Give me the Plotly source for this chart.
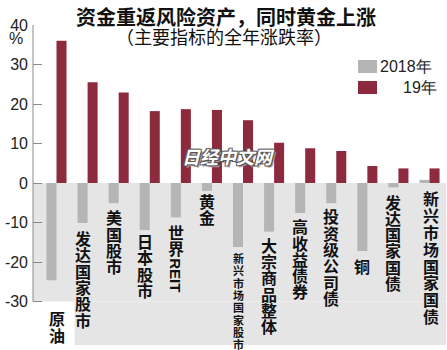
import plotly.graph_objects as go

# ---- data ----
categories = ["原油", "发达国家股市", "美国股市", "日本股市", "世界REIT", "黄金",
              "新兴市场国家股市", "大宗商品整体", "高收益债券", "投资级公司债", "铜",
              "发达国家国债", "新兴市场国家国债"]
values_2018 = [-24.6, -10.1, -5.1, -11.9, -8.7, -2.0, -16.2, -12.3, -7.6, -5.1, -17.2, -1.1, 0.8]
values_2019 = [36.0, 25.5, 22.9, 18.2, 18.7, 18.5, 15.9, 10.2, 8.8, 8.1, 4.3, 3.7, 3.7]
series_names = ["2018年", "19年"]
y_ticks = [-30, -20, -10, 0, 10, 20, 30, 40]

title_text = "资金重返风险资产，同时黄金上涨"
subtitle_text = "（主要指标的全年涨跌率）"
unit_text = "%"
watermark_text = "日经中文网"

# ---- styles / layout tweaks (not data) ----
C_GRAY = "#b5b5b5"
C_RED = "#8d2a3e"
C_BG = "#e5e5e5"
CJK = "Noto Sans CJK SC"
NUM = "Liberation Sans, Arial, sans-serif"

label_gap = [30, 7, 6, 3, 6, 2, 5, 5, 5, 5, 7, 6, 7]     # px below bar end
label_dx = [0, -5, -5, -5, -5, -5, -5, -5, -5, -5, -5, -5, 1]
label_size = [16, 16, 16, 16, 16, 16, 11, 16, 16, 16, 16, 16, 16]
label_step = [16.3, 16.3, 16.3, 16.3, 16.3, 16.3, 12.3, 16.3, 16.3, 16.3, 16.3, 16.3, 16.8]

W, H = 447, 350
ML, MR, MT, MB = 33, 1, 25, 5
PW, PH = W - ML - MR, H - MT - MB
X_RANGE = [-0.756, 12.53]
Y_RANGE = [-41, 40]


def px2paper_x(px):
    return (px - ML) / PW


def px2paper_y(py):
    return 1 - (py - MT) / PH


fig = go.Figure()
fig.add_trace(go.Bar(x=categories, y=values_2018, name=series_names[0],
                     marker=dict(color=C_GRAY, line=dict(width=0))))
fig.add_trace(go.Bar(x=categories, y=values_2019, name=series_names[1],
                     marker=dict(color=C_RED, line=dict(width=0))))

shapes = []
# gray background below zero
shapes.append(dict(type="rect", xref="paper", yref="y", x0=0, x1=1, y0=-30, y1=0,
                   fillcolor=C_BG, line=dict(width=0), layer="below"))
shapes.append(dict(type="rect", xref="x", yref="y", x0=0.58, x1=X_RANGE[1], y0=Y_RANGE[0], y1=-30,
                   fillcolor=C_BG, line=dict(width=0), layer="below"))
# axis line from -30 to 40
shapes.append(dict(type="line", xref="paper", yref="y", x0=0, x1=0, y0=y_ticks[0], y1=y_ticks[-1],
                   line=dict(color="#8a8a8a", width=1)))
# legend swatches
shapes.append(dict(type="rect", xref="paper", yref="paper",
                   x0=px2paper_x(358), x1=px2paper_x(377), y0=px2paper_y(73), y1=px2paper_y(60),
                   fillcolor=C_GRAY, line=dict(width=0)))
shapes.append(dict(type="rect", xref="paper", yref="paper",
                   x0=px2paper_x(358), x1=px2paper_x(377), y0=px2paper_y(94), y1=px2paper_y(81),
                   fillcolor=C_RED, line=dict(width=0)))

ann = []
ann.append(dict(text="<b>" + title_text + "</b>", xref="paper", yref="paper", x=px2paper_x(226),
                y=px2paper_y(16), showarrow=False, font=dict(family=CJK, size=20, color="#111"),
                xanchor="center", yanchor="middle"))
ann.append(dict(text=subtitle_text, xref="paper", yref="paper", x=px2paper_x(224), y=px2paper_y(36),
                showarrow=False, font=dict(family=CJK, size=18, color="#111"), xanchor="center",
                yanchor="middle"))
ann.append(dict(text=unit_text, xref="paper", yref="paper", x=px2paper_x(16), y=px2paper_y(39),
                showarrow=False, font=dict(family=NUM, size=16, color="#222"), xanchor="center",
                yanchor="middle"))
ann.append(dict(text=series_names[0], xref="paper", yref="paper", x=px2paper_x(378), y=px2paper_y(66.5),
                showarrow=False, font=dict(family=NUM, size=16, color="#222"), xanchor="left",
                yanchor="middle"))
ann.append(dict(text=series_names[1], xref="paper", yref="paper", x=px2paper_x(439), y=px2paper_y(87.5),
                showarrow=False, font=dict(family=NUM, size=16, color="#222"), xanchor="right",
                yanchor="middle"))

# watermark: outlined white text (dark copies offset, white on top)
wm_x, wm_y = px2paper_x(228), px2paper_y(156)
for dx, dy, col in [(2, -2, "#b59aa2"), (1, 1, "#555555"), (-1, -1, "#555555"),
                    (1, -1, "#555555"), (-1, 1, "#555555"), (0, 0, "#ffffff")]:
    ann.append(dict(text="<b><i>" + watermark_text + "</i></b>", xref="paper", yref="paper",
                    x=wm_x, y=wm_y, xshift=dx, yshift=dy, showarrow=False,
                    font=dict(family=CJK, size=18, color=col),
                    xanchor="center", yanchor="middle"))

# vertical category labels, one character per annotation
for i, cat in enumerate(categories):
    base = min(values_2018[i], 0)
    step = label_step[i]
    if cat.endswith("REIT"):
        chars = list(cat[:-4])
    else:
        chars = list(cat)
    for j, ch in enumerate(chars):
        ann.append(dict(text="<b>" + ch + "</b>", xref="x", yref="y", x=cat, y=base,
                        xshift=label_dx[i], yshift=-(label_gap[i] + step * (j + 0.5)),
                        showarrow=False, xanchor="center", yanchor="middle",
                        font=dict(family=CJK, size=label_size[i], color="#111")))
    if cat.endswith("REIT"):
        ann.append(dict(text="<b>REIT</b>", xref="x", yref="y", x=cat, y=base, textangle=90,
                        xshift=label_dx[i], yshift=-(label_gap[i] + step * len(chars) + 19),
                        showarrow=False, xanchor="center", yanchor="middle",
                        font=dict(family=NUM, size=15, color="#111")))

fig.update_layout(
    width=W, height=H,
    margin=dict(l=ML, r=MR, t=MT, b=MB, pad=0),
    paper_bgcolor="white", plot_bgcolor="white",
    barmode="group", bargap=0.355, bargroupgap=0,
    showlegend=False,
    shapes=shapes, annotations=ann,
    xaxis=dict(range=X_RANGE, showticklabels=False, showgrid=False, zeroline=False,
               showline=False, ticks=""),
    yaxis=dict(range=Y_RANGE, tickvals=y_ticks, ticktext=[str(v) for v in y_ticks],
               showgrid=False, zeroline=False, showline=False,
               ticks="inside", ticklen=9, tickcolor="#8a8a8a", tickwidth=1,
               ticklabelstandoff=4,
               tickfont=dict(family=NUM, size=16, color="#222")),
)

fig.write_html("out.html")
